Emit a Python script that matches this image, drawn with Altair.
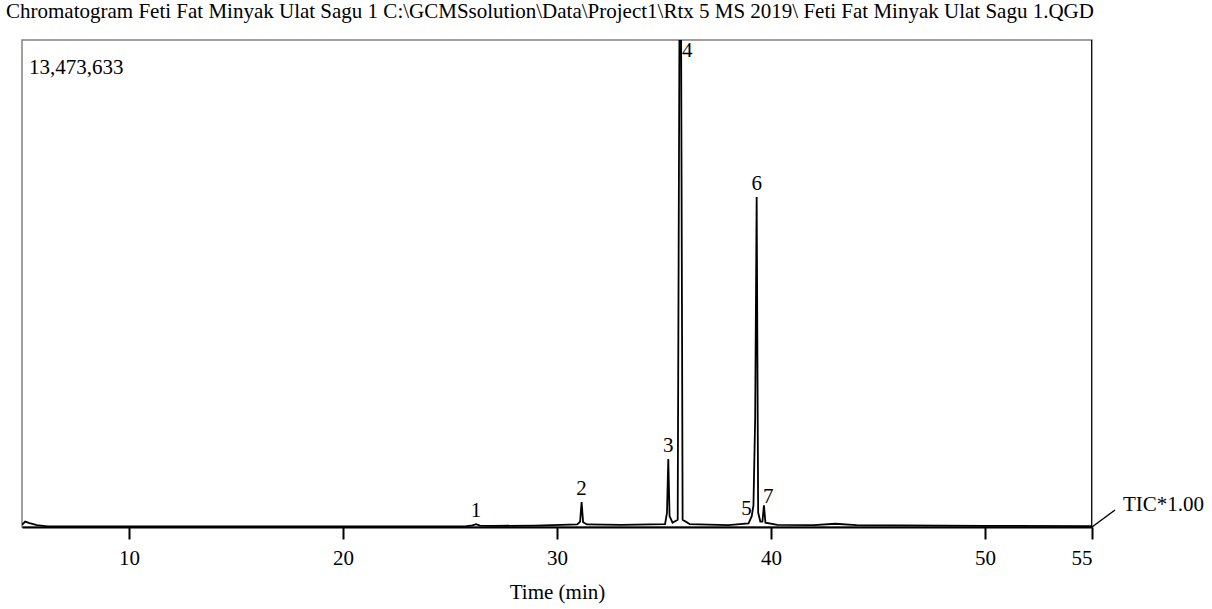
import altair as alt
import pandas as pd

# Trace points (retention time in min, intensity in counts)
trace_time = [5.0, 5.15, 5.35, 5.7, 6.2, 10.0, 20.0, 25.7, 26.05, 26.22, 26.4, 27.0,
              29.0, 30.95, 31.08, 31.15, 31.22, 31.4, 33.0, 35.05, 35.14, 35.2, 35.26,
              35.4, 35.64, 35.72, 35.76, 35.8, 35.87, 36.2, 38.0, 38.95, 39.1, 39.18,
              39.26, 39.33, 39.4, 39.5, 39.6, 39.67, 39.74, 40.3, 42.0, 43.0, 44.0,
              50.0, 54.9, 55.0, 55.0]
trace_int = [60000, 150000, 110000, 50000, 20000, 15000, 15000, 20000, 45000, 80000, 40000, 30000,
             40000, 70000, 150000, 690000, 130000, 70000, 60000, 80000, 400000, 1880000, 300000,
             120000, 200000, 13473633, 13473633, 13473633, 200000, 80000, 50000, 100000, 300000, 600000,
             3000000, 9130000, 400000, 150000, 150000, 600000, 120000, 60000, 50000, 90000, 50000,
             30000, 25000, 25000, 13473633]

# Peak labels
peak_no = ["1", "2", "3", "6"]
peak_rt = [26.22, 31.15, 35.2, 39.33]
peak_ht = [80000, 690000, 1880000, 9130000]

max_int = 13473633

trace = pd.DataFrame({"t": trace_time, "i": trace_int})
labels = pd.DataFrame({"n": peak_no, "t": peak_rt, "i": peak_ht})

FONT = "Liberation Serif"
FS = 21

xs = alt.Scale(domain=[5, 55], nice=False, zero=False)
ys = alt.Scale(domain=[0, max_int], nice=False, zero=True)

line = alt.Chart(trace).mark_line(color="black", strokeWidth=1.8, clip=True).encode(
    x=alt.X("t:Q", scale=xs, axis=alt.Axis(
        values=[10, 20, 30, 40, 50, 55], title="Time (min)", grid=False,
        domainColor="black", domainWidth=2, tickColor="black", tickWidth=2, tickSize=12,
        labelFont=FONT, labelFontSize=FS, labelColor="black", labelPadding=8,
        titleFont=FONT, titleFontSize=FS, titleFontWeight="normal", titleColor="black",
        titlePadding=13)),
    y=alt.Y("i:Q", scale=ys, axis=None),
    order="index:Q",
).transform_window(index="row_number()")

text_common = dict(font=FONT, fontSize=FS, color="black")

lab = alt.Chart(labels).mark_text(baseline="bottom", dy=-3, **text_common).encode(
    x=alt.X("t:Q", scale=xs), y=alt.Y("i:Q", scale=ys), text="n:N")

lab4 = alt.Chart(pd.DataFrame({"n": ["4"], "t": [35.8], "i": [max_int]})).mark_text(
    baseline="top", align="left", dx=1, dy=0, **text_common).encode(
    x=alt.X("t:Q", scale=xs), y=alt.Y("i:Q", scale=ys), text="n:N")

lab5 = alt.Chart(pd.DataFrame({"n": ["5"], "t": [39.1], "i": [300000]})).mark_text(
    baseline="bottom", align="right", dx=0, dy=3, **text_common).encode(
    x=alt.X("t:Q", scale=xs), y=alt.Y("i:Q", scale=ys), text="n:N")

lab7 = alt.Chart(pd.DataFrame({"n": ["7"], "t": [39.67], "i": [600000]})).mark_text(
    baseline="bottom", align="left", dx=-1, dy=2, **text_common).encode(
    x=alt.X("t:Q", scale=xs), y=alt.Y("i:Q", scale=ys), text="n:N")

maxlab = alt.Chart(pd.DataFrame({"s": [f"{max_int:,}"]})).mark_text(
    align="left", baseline="middle", **text_common).encode(
    x=alt.value(7), y=alt.value(28), text="s:N")

title = alt.Chart(pd.DataFrame({"s": [
    "Chromatogram Feti Fat Minyak Ulat Sagu 1 C:\\GCMSsolution\\Data\\Project1\\Rtx 5 MS 2019\\ Feti Fat Minyak Ulat Sagu 1.QGD"]})).mark_text(
    align="left", baseline="middle", **text_common).encode(
    x=alt.value(-16), y=alt.value(-28), text="s:N")

tic_line = alt.Chart(pd.DataFrame({"a": [0]})).mark_rule(color="black", strokeWidth=1.5).encode(
    x=alt.value(1070), x2=alt.value(1093), y=alt.value(487), y2=alt.value(470))

tic = alt.Chart(pd.DataFrame({"s": ["TIC*1.00"]})).mark_text(
    align="left", baseline="middle", **text_common).encode(
    x=alt.value(1101), y=alt.value(465), text="s:N")

chart = alt.layer(line, lab, lab4, lab5, lab7, maxlab, title, tic_line, tic).properties(
    width=1070, height=487,
    autosize=alt.AutoSizeParams(type="none"),
    padding={"left": 22, "top": 40, "right": 120, "bottom": 82},
    background="white",
).configure_view(stroke="#808080", strokeWidth=1.5)

chart.save("out.html", embed_options={"renderer": "svg", "actions": False})
